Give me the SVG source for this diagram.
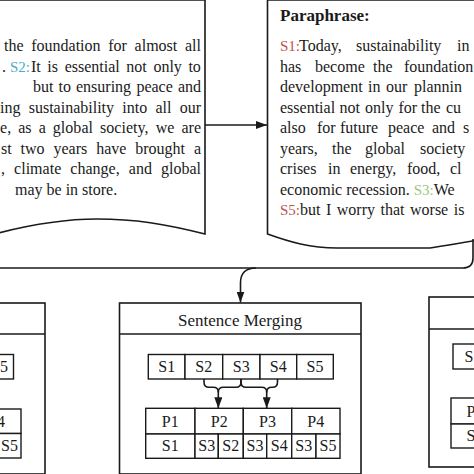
<svg xmlns="http://www.w3.org/2000/svg" width="474" height="474" viewBox="0 0 474 474">
<style>
.doc{fill:#fff;stroke:#1a1a1a;stroke-width:1.6}
.box{fill:#fff;stroke:#1a1a1a;stroke-width:1.6}
.cell{fill:#fff;stroke:#1a1a1a;stroke-width:1.4}
.ln{fill:none;stroke:#1a1a1a;stroke-width:1.6}
.t{font-family:"Liberation Serif","Times New Roman",serif;font-size:16px;fill:#1a1a1a}
.h{font-family:"Liberation Serif","Times New Roman",serif;font-size:17px;fill:#1a1a1a}
.c{text-anchor:middle}
.e{text-anchor:end}
.lab{font-size:15px}
.red{fill:#c0504d}
.blue{fill:#4bacc6}
.green{fill:#9bc878}
</style>
<defs>
<marker id="ah" viewBox="0 0 11 8" refX="11" refY="4" markerWidth="11" markerHeight="8" orient="auto" markerUnits="userSpaceOnUse"><path d="M0,0 L11,4 L0,8 z" fill="#1a1a1a"/></marker>
</defs>
<rect width="474" height="474" fill="#fff"/>

<g id="original-doc">
<path class="doc" d="M-260,0 H205 V234 C165,224 135,219 97,219 C60,219 25,225 -20,238 Z"/>
<text class="t" x="4" y="51" word-spacing="3.7" textLength="197" lengthAdjust="spacing">the foundation for almost all</text>
<text class="t" y="71.5"><tspan x="2">.</tspan><tspan x="10" class="blue lab">S2:</tspan><tspan x="31" word-spacing="2.6">It is essential not only to</tspan></text>
<text class="t" y="92"><tspan x="33">but</tspan><tspan x="58.5">to</tspan><tspan x="76">ensuring</tspan><tspan x="136.4">peace</tspan><tspan x="177.9">and</tspan></text>
<text class="t e" x="201" y="112.5" word-spacing="4.25" textLength="201" lengthAdjust="spacing">ing sustainability into all our</text>
<text class="t e" x="201" y="133" word-spacing="3" textLength="201" lengthAdjust="spacing">e, as a global society, we are</text>
<text class="t e" x="201" y="153.5" word-spacing="4.9" textLength="200" lengthAdjust="spacing">st two years have brought a</text>
<text class="t e" x="201" y="174" word-spacing="5.1" textLength="200" lengthAdjust="spacing">, climate change, and global</text>
<text class="t" x="15" y="194.5">may be in store.</text>
</g>

<g id="paraphrase-doc">
<path class="doc" d="M267.5,0 H560 V232 C520,232 480,240 430,248 C400,248 370,248 337,248 C310,248 290,242 267.5,234 Z"/>
<text class="h" x="280" y="21" font-weight="bold">Paraphrase:</text>
<text class="t" y="51"><tspan x="280" class="red lab">S1:</tspan><tspan x="299">Today,</tspan><tspan x="356">sustainability</tspan><tspan x="457">in</tspan></text>
<text class="t" y="71.5"><tspan x="280">has</tspan><tspan x="315">become</tspan><tspan x="373">the</tspan><tspan x="404">foundation</tspan></text>
<text class="t" y="92"><tspan x="280">development</tspan><tspan x="368">in</tspan><tspan x="386">our</tspan><tspan x="414">plannin</tspan></text>
<text class="t" y="112.5"><tspan x="280">essential</tspan><tspan x="339.5">not</tspan><tspan x="365">only</tspan><tspan x="398.5">for</tspan><tspan x="421">the</tspan><tspan x="446">cu</tspan></text>
<text class="t" y="133"><tspan x="280">also</tspan><tspan x="317">for</tspan><tspan x="340">future</tspan><tspan x="388">peace</tspan><tspan x="432">and</tspan><tspan x="463">s</tspan></text>
<text class="t" y="153.5"><tspan x="280">years,</tspan><tspan x="332">the</tspan><tspan x="365">global</tspan><tspan x="420">society</tspan></text>
<text class="t" y="174"><tspan x="280">crises</tspan><tspan x="328">in</tspan><tspan x="350">energy,</tspan><tspan x="407">food,</tspan><tspan x="450">cl</tspan></text>
<text class="t" y="194.5"><tspan x="280">economic recession. </tspan><tspan class="green lab">S3:</tspan><tspan>We</tspan></text>
<text class="t" y="215" word-spacing="1.5"><tspan x="280" class="red lab">S5:</tspan><tspan>but I worry that worse is</tspan></text>
</g>

<g id="left-box">
<rect class="box" x="-200" y="303" width="245" height="171"/>
<line class="box" x1="-200" y1="334" x2="45" y2="334"/>
<rect class="cell" x="-24" y="354.5" width="37.5" height="24.5"/>
<text class="t c" x="-0.5" y="372">S5</text>
<rect class="cell" x="-28" y="409" width="49" height="24.5"/>
<rect class="cell" x="-28" y="433.5" width="49" height="24.5"/>
<line class="cell" x1="-3" y1="433.5" x2="-3" y2="458"/>
<text class="t c" x="-3.5" y="426.5">P4</text>
<text class="t c" x="9.5" y="451">S5</text>
</g>

<g id="sentence-merging">
<rect class="box" x="119.5" y="303" width="241.5" height="171"/>
<line class="box" x1="119.5" y1="334" x2="361" y2="334"/>
<text class="h c" x="240" y="325.5">Sentence Merging</text>
<rect class="cell" x="148.3" y="354.5" width="36.7" height="24.5"/>
<rect class="cell" x="185" y="354.5" width="37.7" height="24.5"/>
<rect class="cell" x="222.7" y="354.5" width="37.3" height="24.5"/>
<rect class="cell" x="260" y="354.5" width="36.7" height="24.5"/>
<rect class="cell" x="296.7" y="354.5" width="36.6" height="24.5"/>
<text class="t c" x="166.7" y="372">S1</text>
<text class="t c" x="203.8" y="372">S2</text>
<text class="t c" x="241.3" y="372">S3</text>
<text class="t c" x="278.3" y="372">S4</text>
<text class="t c" x="315" y="372">S5</text>
<rect class="cell" x="145.7" y="408.3" width="49.3" height="25.7"/>
<rect class="cell" x="195" y="408.3" width="48.3" height="25.7"/>
<rect class="cell" x="243.3" y="408.3" width="48.4" height="25.7"/>
<rect class="cell" x="291.7" y="408.3" width="48.3" height="25.7"/>
<rect class="cell" x="145.7" y="434" width="49.3" height="24.3"/>
<rect class="cell" x="195" y="434" width="23.3" height="24.3"/>
<rect class="cell" x="218.3" y="434" width="25" height="24.3"/>
<rect class="cell" x="243.3" y="434" width="23.4" height="24.3"/>
<rect class="cell" x="266.7" y="434" width="25" height="24.3"/>
<rect class="cell" x="291.7" y="434" width="24.3" height="24.3"/>
<rect class="cell" x="316" y="434" width="24" height="24.3"/>
<text class="t c" x="170.3" y="427">P1</text>
<text class="t c" x="219.2" y="427">P2</text>
<text class="t c" x="267.5" y="427">P3</text>
<text class="t c" x="315.8" y="427">P4</text>
<text class="t c" x="170.3" y="451">S1</text>
<text class="t c" x="206.7" y="451">S3</text>
<text class="t c" x="230.8" y="451">S2</text>
<text class="t c" x="255" y="451">S3</text>
<text class="t c" x="279.2" y="451">S4</text>
<text class="t c" x="303.8" y="451">S3</text>
<text class="t c" x="328" y="451">S5</text>
</g>

<g id="right-box">
<rect class="box" x="429" y="297" width="200" height="170"/>
<line class="box" x1="429" y1="329" x2="629" y2="329"/>
<rect class="cell" x="453" y="344" width="37" height="25"/>
<text class="t c" x="473" y="361.5">S1</text>
<rect class="cell" x="451" y="398" width="48.5" height="26"/>
<rect class="cell" x="451" y="424" width="48.5" height="24"/>
<text class="t c" x="475" y="416.5">P1</text>
<text class="t c" x="475" y="441">S1</text>
</g>

<g id="connectors">
<line class="ln" x1="205" y1="125" x2="267" y2="125" marker-end="url(#ah)"/>
<path class="ln" d="M473,239 V258 Q473,268 463,268 H-5"/>
<path class="ln" d="M256,268 Q240.5,268 240.5,283 V302.5" marker-end="url(#ah)"/>
<path class="ln" d="M204,379 V382 Q204,387.3 209,387.3 H213.3 Q218.3,387.3 218.3,392.3 V408.3" marker-end="url(#ah)"/>
<path class="ln" d="M241,379 V382 Q241,387.3 236,387.3 H223.3 Q218.3,387.3 218.3,392.3"/>
<path class="ln" d="M241,379 V382 Q241,387.3 246,387.3 H261.7 Q266.7,387.3 266.7,392.3 V408.3" marker-end="url(#ah)"/>
<path class="ln" d="M277.5,379 V382 Q277.5,387.3 272.5,387.3 H271.7 Q266.7,387.3 266.7,392.3"/>
</g>
</svg>
